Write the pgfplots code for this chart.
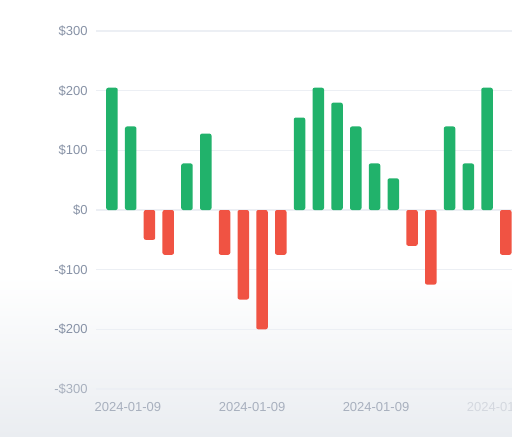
\documentclass[border=0pt]{standalone}
\usepackage{pgfplots}
\pgfplotsset{compat=1.18}
\usepackage{fontspec}
\setmainfont{Liberation Sans}
\definecolor{barg}{RGB}{33,178,107}
\definecolor{barr}{RGB}{240,83,67}
\definecolor{gridc}{RGB}{236,239,244}
\definecolor{lab}{RGB}{135,146,166}
\definecolor{labl}{RGB}{168,176,190}
\definecolor{labf}{RGB}{212,216,223}
\definecolor{bgg}{RGB}{234,237,241}
\begin{document}
\begin{tikzpicture}
\useasboundingbox (0,0) rectangle (256pt,218pt);
\clip (0,0) rectangle (256pt,218pt);
\fill[white] (0,0) rectangle (256pt,218pt);
\shade[top color=white, bottom color=bgg] (0,0) rectangle (256pt,80pt);
\begin{axis}[
  at={(48pt,23.5pt)}, anchor=south west,
  scale only axis, width=214.25pt, height=179pt,
  xmin=0.147, xmax=23, ymin=-300, ymax=300,
  axis line style={draw=none},
  major tick length=0pt,
  ytick={-300,-200,-100,0,100,200,300},
  yticklabels={{\color{labl}-\$300},-\$200,-\$100,\$0,\$100,\$200,\$300},
  yticklabel style={font=\fontsize{6.5pt}{7pt}\selectfont, text=lab, anchor=east, inner sep=0pt, xshift=-4pt},
  xtick={1.85,8.47,15.08,21.7},
  xticklabels={2024-01-09,2024-01-09,2024-01-09,{\color{labf}2024-01-09}},
  xticklabel style={font=\fontsize{6.5pt}{7pt}\selectfont, text=labl, anchor=north, inner sep=0pt, yshift=-6.5pt},
  ymajorgrids, grid style={gridc, line width=0.75pt},
  clip=false,
]
\addplot[ybar, bar width=5.75pt, bar shift=0pt, fill=barg, draw=none, rounded corners=1pt]
  coordinates {(1,205) (2,140) (5,78) (6,128) (11,155) (12,205) (13,180) (14,140) (15,78) (16,53) (19,140) (20,78) (21,205)};
\addplot[ybar, bar width=5.75pt, bar shift=0pt, fill=barr, draw=none, rounded corners=1pt]
  coordinates {(3,-50) (4,-75) (7,-75) (8,-150) (9,-200) (10,-75) (17,-60) (18,-125) (22,-75)};
\end{axis}
\end{tikzpicture}
\end{document}
